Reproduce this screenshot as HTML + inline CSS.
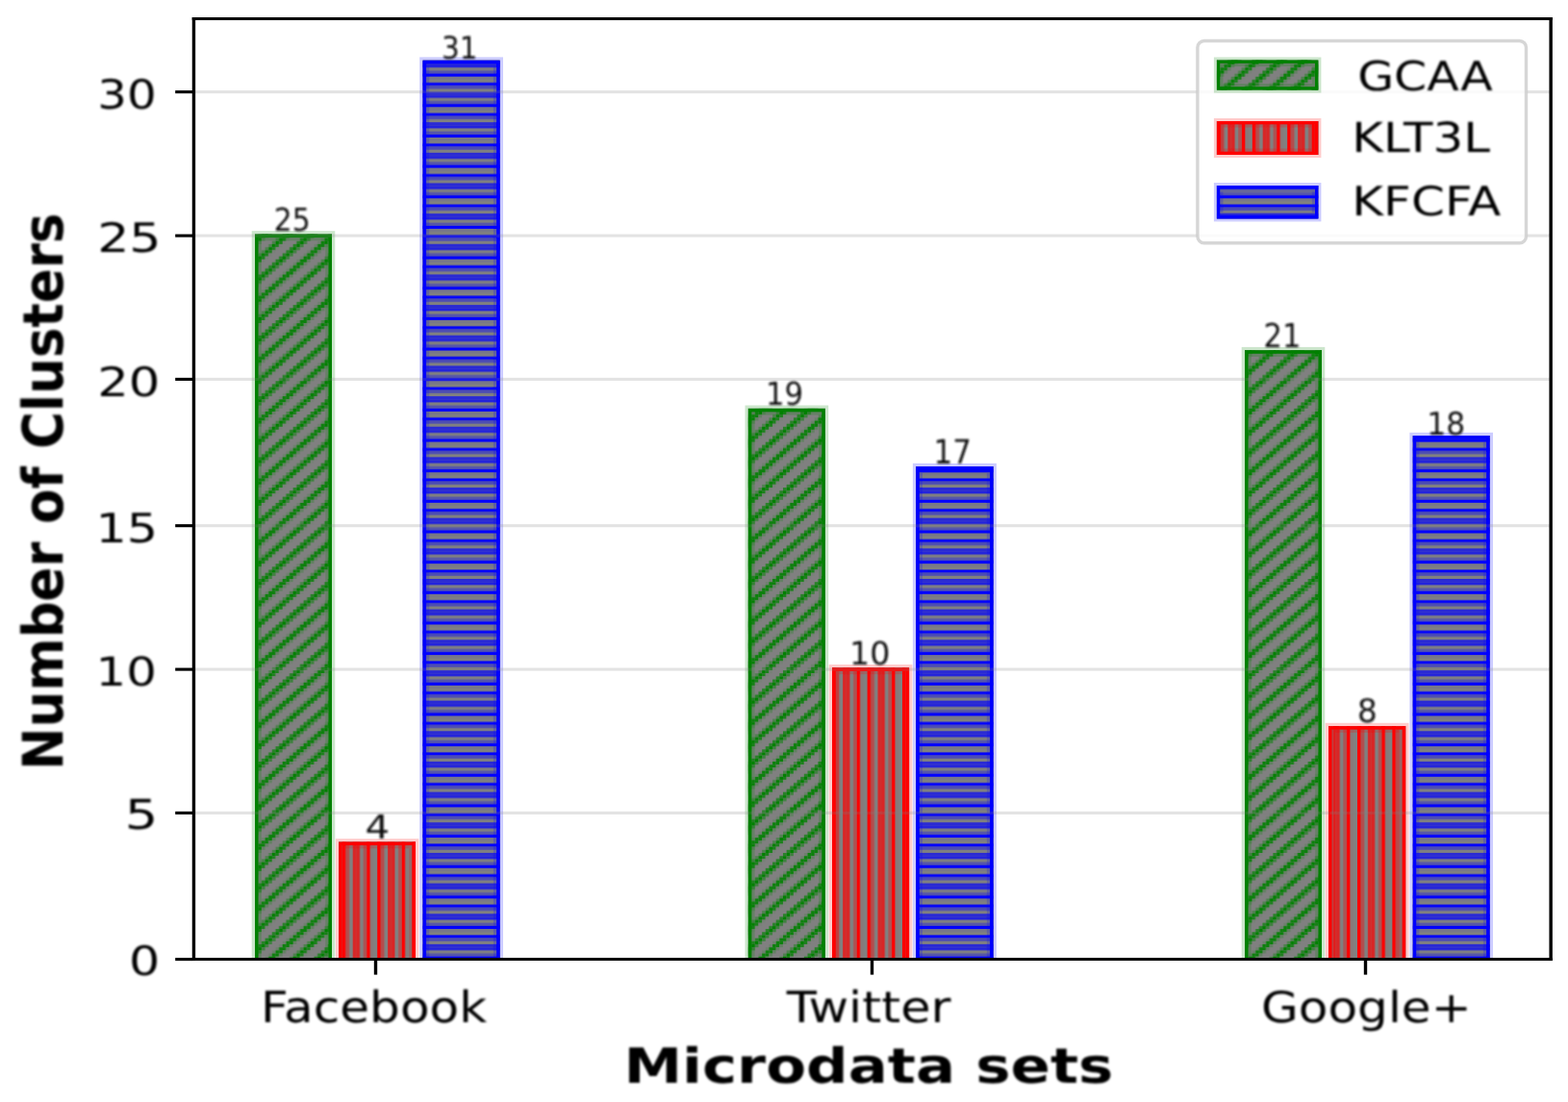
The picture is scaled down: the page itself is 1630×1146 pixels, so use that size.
<!DOCTYPE html>
<html lang="en">
<head>
<meta charset="utf-8">
<title>Number of Clusters by Microdata sets</title>
<style>
html,body{margin:0;padding:0;background:#ffffff;}
body{width:1630px;height:1146px;overflow:hidden;font-family:"DejaVu Sans","Liberation Sans",sans-serif;}
svg text{text-rendering:geometricPrecision;}
</style>
</head>
<body>
<svg width="1630" height="1146" viewBox="0 0 1630 1146" style="display:block">
<defs>
<pattern id="hg" patternUnits="userSpaceOnUse" x="0" y="0" width="72.7679" height="63.3149" patternTransform="translate(2.620,0.570)">
<rect x="10.915" y="0.000" width="3.668" height="3.196" fill="#298029"/>
<rect x="14.554" y="0.000" width="3.668" height="3.196" fill="#008000"/>
<rect x="18.192" y="0.000" width="3.668" height="3.196" fill="#408040"/>
<rect x="32.746" y="0.000" width="3.668" height="3.196" fill="#6e806e"/>
<rect x="36.384" y="0.000" width="3.668" height="3.196" fill="#0e800e"/>
<rect x="40.022" y="0.000" width="3.668" height="3.196" fill="#078007"/>
<rect x="43.661" y="0.000" width="3.668" height="3.196" fill="#648064"/>
<rect x="58.214" y="0.000" width="3.668" height="3.196" fill="#508050"/>
<rect x="61.853" y="0.000" width="3.668" height="3.196" fill="#018001"/>
<rect x="65.491" y="0.000" width="3.668" height="3.196" fill="#1c801c"/>
<rect x="69.129" y="0.000" width="3.668" height="3.196" fill="#798079"/>
<rect x="7.277" y="3.166" width="3.668" height="3.196" fill="#298029"/>
<rect x="10.915" y="3.166" width="3.668" height="3.196" fill="#008000"/>
<rect x="14.554" y="3.166" width="3.668" height="3.196" fill="#408040"/>
<rect x="29.107" y="3.166" width="3.668" height="3.196" fill="#6e806e"/>
<rect x="32.746" y="3.166" width="3.668" height="3.196" fill="#0e800e"/>
<rect x="36.384" y="3.166" width="3.668" height="3.196" fill="#078007"/>
<rect x="40.022" y="3.166" width="3.668" height="3.196" fill="#648064"/>
<rect x="54.576" y="3.166" width="3.668" height="3.196" fill="#508050"/>
<rect x="58.214" y="3.166" width="3.668" height="3.196" fill="#018001"/>
<rect x="61.853" y="3.166" width="3.668" height="3.196" fill="#1c801c"/>
<rect x="65.491" y="3.166" width="3.668" height="3.196" fill="#798079"/>
<rect x="3.638" y="6.331" width="3.668" height="3.196" fill="#298029"/>
<rect x="7.277" y="6.331" width="3.668" height="3.196" fill="#008000"/>
<rect x="10.915" y="6.331" width="3.668" height="3.196" fill="#408040"/>
<rect x="25.469" y="6.331" width="3.668" height="3.196" fill="#6e806e"/>
<rect x="29.107" y="6.331" width="3.668" height="3.196" fill="#0e800e"/>
<rect x="32.746" y="6.331" width="3.668" height="3.196" fill="#078007"/>
<rect x="36.384" y="6.331" width="3.668" height="3.196" fill="#648064"/>
<rect x="50.938" y="6.331" width="3.668" height="3.196" fill="#508050"/>
<rect x="54.576" y="6.331" width="3.668" height="3.196" fill="#018001"/>
<rect x="58.214" y="6.331" width="3.668" height="3.196" fill="#1c801c"/>
<rect x="61.853" y="6.331" width="3.668" height="3.196" fill="#798079"/>
<rect x="0.000" y="9.497" width="3.668" height="3.196" fill="#298029"/>
<rect x="3.638" y="9.497" width="3.668" height="3.196" fill="#008000"/>
<rect x="7.277" y="9.497" width="3.668" height="3.196" fill="#408040"/>
<rect x="21.830" y="9.497" width="3.668" height="3.196" fill="#6e806e"/>
<rect x="25.469" y="9.497" width="3.668" height="3.196" fill="#0e800e"/>
<rect x="29.107" y="9.497" width="3.668" height="3.196" fill="#078007"/>
<rect x="32.746" y="9.497" width="3.668" height="3.196" fill="#648064"/>
<rect x="47.299" y="9.497" width="3.668" height="3.196" fill="#508050"/>
<rect x="50.938" y="9.497" width="3.668" height="3.196" fill="#018001"/>
<rect x="54.576" y="9.497" width="3.668" height="3.196" fill="#1c801c"/>
<rect x="58.214" y="9.497" width="3.668" height="3.196" fill="#798079"/>
<rect x="0.000" y="12.663" width="3.668" height="3.196" fill="#008000"/>
<rect x="3.638" y="12.663" width="3.668" height="3.196" fill="#408040"/>
<rect x="18.192" y="12.663" width="3.668" height="3.196" fill="#6e806e"/>
<rect x="21.830" y="12.663" width="3.668" height="3.196" fill="#0e800e"/>
<rect x="25.469" y="12.663" width="3.668" height="3.196" fill="#078007"/>
<rect x="29.107" y="12.663" width="3.668" height="3.196" fill="#648064"/>
<rect x="43.661" y="12.663" width="3.668" height="3.196" fill="#508050"/>
<rect x="47.299" y="12.663" width="3.668" height="3.196" fill="#018001"/>
<rect x="50.938" y="12.663" width="3.668" height="3.196" fill="#1c801c"/>
<rect x="54.576" y="12.663" width="3.668" height="3.196" fill="#798079"/>
<rect x="69.129" y="12.663" width="3.668" height="3.196" fill="#298029"/>
<rect x="0.000" y="15.829" width="3.668" height="3.196" fill="#408040"/>
<rect x="14.554" y="15.829" width="3.668" height="3.196" fill="#6e806e"/>
<rect x="18.192" y="15.829" width="3.668" height="3.196" fill="#0e800e"/>
<rect x="21.830" y="15.829" width="3.668" height="3.196" fill="#078007"/>
<rect x="25.469" y="15.829" width="3.668" height="3.196" fill="#648064"/>
<rect x="40.022" y="15.829" width="3.668" height="3.196" fill="#508050"/>
<rect x="43.661" y="15.829" width="3.668" height="3.196" fill="#018001"/>
<rect x="47.299" y="15.829" width="3.668" height="3.196" fill="#1c801c"/>
<rect x="50.938" y="15.829" width="3.668" height="3.196" fill="#798079"/>
<rect x="65.491" y="15.829" width="3.668" height="3.196" fill="#298029"/>
<rect x="69.129" y="15.829" width="3.668" height="3.196" fill="#008000"/>
<rect x="10.915" y="18.994" width="3.668" height="3.196" fill="#6e806e"/>
<rect x="14.554" y="18.994" width="3.668" height="3.196" fill="#0e800e"/>
<rect x="18.192" y="18.994" width="3.668" height="3.196" fill="#078007"/>
<rect x="21.830" y="18.994" width="3.668" height="3.196" fill="#648064"/>
<rect x="36.384" y="18.994" width="3.668" height="3.196" fill="#508050"/>
<rect x="40.022" y="18.994" width="3.668" height="3.196" fill="#018001"/>
<rect x="43.661" y="18.994" width="3.668" height="3.196" fill="#1c801c"/>
<rect x="47.299" y="18.994" width="3.668" height="3.196" fill="#798079"/>
<rect x="61.853" y="18.994" width="3.668" height="3.196" fill="#298029"/>
<rect x="65.491" y="18.994" width="3.668" height="3.196" fill="#008000"/>
<rect x="69.129" y="18.994" width="3.668" height="3.196" fill="#408040"/>
<rect x="7.277" y="22.160" width="3.668" height="3.196" fill="#6e806e"/>
<rect x="10.915" y="22.160" width="3.668" height="3.196" fill="#0e800e"/>
<rect x="14.554" y="22.160" width="3.668" height="3.196" fill="#078007"/>
<rect x="18.192" y="22.160" width="3.668" height="3.196" fill="#648064"/>
<rect x="32.746" y="22.160" width="3.668" height="3.196" fill="#508050"/>
<rect x="36.384" y="22.160" width="3.668" height="3.196" fill="#018001"/>
<rect x="40.022" y="22.160" width="3.668" height="3.196" fill="#1c801c"/>
<rect x="43.661" y="22.160" width="3.668" height="3.196" fill="#798079"/>
<rect x="58.214" y="22.160" width="3.668" height="3.196" fill="#298029"/>
<rect x="61.853" y="22.160" width="3.668" height="3.196" fill="#008000"/>
<rect x="65.491" y="22.160" width="3.668" height="3.196" fill="#408040"/>
<rect x="3.638" y="25.326" width="3.668" height="3.196" fill="#6e806e"/>
<rect x="7.277" y="25.326" width="3.668" height="3.196" fill="#0e800e"/>
<rect x="10.915" y="25.326" width="3.668" height="3.196" fill="#078007"/>
<rect x="14.554" y="25.326" width="3.668" height="3.196" fill="#648064"/>
<rect x="29.107" y="25.326" width="3.668" height="3.196" fill="#508050"/>
<rect x="32.746" y="25.326" width="3.668" height="3.196" fill="#018001"/>
<rect x="36.384" y="25.326" width="3.668" height="3.196" fill="#1c801c"/>
<rect x="40.022" y="25.326" width="3.668" height="3.196" fill="#798079"/>
<rect x="54.576" y="25.326" width="3.668" height="3.196" fill="#298029"/>
<rect x="58.214" y="25.326" width="3.668" height="3.196" fill="#008000"/>
<rect x="61.853" y="25.326" width="3.668" height="3.196" fill="#408040"/>
<rect x="0.000" y="28.492" width="3.668" height="3.196" fill="#6e806e"/>
<rect x="3.638" y="28.492" width="3.668" height="3.196" fill="#0e800e"/>
<rect x="7.277" y="28.492" width="3.668" height="3.196" fill="#078007"/>
<rect x="10.915" y="28.492" width="3.668" height="3.196" fill="#648064"/>
<rect x="25.469" y="28.492" width="3.668" height="3.196" fill="#508050"/>
<rect x="29.107" y="28.492" width="3.668" height="3.196" fill="#018001"/>
<rect x="32.746" y="28.492" width="3.668" height="3.196" fill="#1c801c"/>
<rect x="36.384" y="28.492" width="3.668" height="3.196" fill="#798079"/>
<rect x="50.938" y="28.492" width="3.668" height="3.196" fill="#298029"/>
<rect x="54.576" y="28.492" width="3.668" height="3.196" fill="#008000"/>
<rect x="58.214" y="28.492" width="3.668" height="3.196" fill="#408040"/>
<rect x="0.000" y="31.657" width="3.668" height="3.196" fill="#0e800e"/>
<rect x="3.638" y="31.657" width="3.668" height="3.196" fill="#078007"/>
<rect x="7.277" y="31.657" width="3.668" height="3.196" fill="#648064"/>
<rect x="21.830" y="31.657" width="3.668" height="3.196" fill="#508050"/>
<rect x="25.469" y="31.657" width="3.668" height="3.196" fill="#018001"/>
<rect x="29.107" y="31.657" width="3.668" height="3.196" fill="#1c801c"/>
<rect x="32.746" y="31.657" width="3.668" height="3.196" fill="#798079"/>
<rect x="47.299" y="31.657" width="3.668" height="3.196" fill="#298029"/>
<rect x="50.938" y="31.657" width="3.668" height="3.196" fill="#008000"/>
<rect x="54.576" y="31.657" width="3.668" height="3.196" fill="#408040"/>
<rect x="69.129" y="31.657" width="3.668" height="3.196" fill="#6e806e"/>
<rect x="0.000" y="34.823" width="3.668" height="3.196" fill="#078007"/>
<rect x="3.638" y="34.823" width="3.668" height="3.196" fill="#648064"/>
<rect x="18.192" y="34.823" width="3.668" height="3.196" fill="#508050"/>
<rect x="21.830" y="34.823" width="3.668" height="3.196" fill="#018001"/>
<rect x="25.469" y="34.823" width="3.668" height="3.196" fill="#1c801c"/>
<rect x="29.107" y="34.823" width="3.668" height="3.196" fill="#798079"/>
<rect x="43.661" y="34.823" width="3.668" height="3.196" fill="#298029"/>
<rect x="47.299" y="34.823" width="3.668" height="3.196" fill="#008000"/>
<rect x="50.938" y="34.823" width="3.668" height="3.196" fill="#408040"/>
<rect x="65.491" y="34.823" width="3.668" height="3.196" fill="#6e806e"/>
<rect x="69.129" y="34.823" width="3.668" height="3.196" fill="#0e800e"/>
<rect x="0.000" y="37.989" width="3.668" height="3.196" fill="#648064"/>
<rect x="14.554" y="37.989" width="3.668" height="3.196" fill="#508050"/>
<rect x="18.192" y="37.989" width="3.668" height="3.196" fill="#018001"/>
<rect x="21.830" y="37.989" width="3.668" height="3.196" fill="#1c801c"/>
<rect x="25.469" y="37.989" width="3.668" height="3.196" fill="#798079"/>
<rect x="40.022" y="37.989" width="3.668" height="3.196" fill="#298029"/>
<rect x="43.661" y="37.989" width="3.668" height="3.196" fill="#008000"/>
<rect x="47.299" y="37.989" width="3.668" height="3.196" fill="#408040"/>
<rect x="61.853" y="37.989" width="3.668" height="3.196" fill="#6e806e"/>
<rect x="65.491" y="37.989" width="3.668" height="3.196" fill="#0e800e"/>
<rect x="69.129" y="37.989" width="3.668" height="3.196" fill="#078007"/>
<rect x="10.915" y="41.155" width="3.668" height="3.196" fill="#508050"/>
<rect x="14.554" y="41.155" width="3.668" height="3.196" fill="#018001"/>
<rect x="18.192" y="41.155" width="3.668" height="3.196" fill="#1c801c"/>
<rect x="21.830" y="41.155" width="3.668" height="3.196" fill="#798079"/>
<rect x="36.384" y="41.155" width="3.668" height="3.196" fill="#298029"/>
<rect x="40.022" y="41.155" width="3.668" height="3.196" fill="#008000"/>
<rect x="43.661" y="41.155" width="3.668" height="3.196" fill="#408040"/>
<rect x="58.214" y="41.155" width="3.668" height="3.196" fill="#6e806e"/>
<rect x="61.853" y="41.155" width="3.668" height="3.196" fill="#0e800e"/>
<rect x="65.491" y="41.155" width="3.668" height="3.196" fill="#078007"/>
<rect x="69.129" y="41.155" width="3.668" height="3.196" fill="#648064"/>
<rect x="7.277" y="44.320" width="3.668" height="3.196" fill="#508050"/>
<rect x="10.915" y="44.320" width="3.668" height="3.196" fill="#018001"/>
<rect x="14.554" y="44.320" width="3.668" height="3.196" fill="#1c801c"/>
<rect x="18.192" y="44.320" width="3.668" height="3.196" fill="#798079"/>
<rect x="32.746" y="44.320" width="3.668" height="3.196" fill="#298029"/>
<rect x="36.384" y="44.320" width="3.668" height="3.196" fill="#008000"/>
<rect x="40.022" y="44.320" width="3.668" height="3.196" fill="#408040"/>
<rect x="54.576" y="44.320" width="3.668" height="3.196" fill="#6e806e"/>
<rect x="58.214" y="44.320" width="3.668" height="3.196" fill="#0e800e"/>
<rect x="61.853" y="44.320" width="3.668" height="3.196" fill="#078007"/>
<rect x="65.491" y="44.320" width="3.668" height="3.196" fill="#648064"/>
<rect x="3.638" y="47.486" width="3.668" height="3.196" fill="#508050"/>
<rect x="7.277" y="47.486" width="3.668" height="3.196" fill="#018001"/>
<rect x="10.915" y="47.486" width="3.668" height="3.196" fill="#1c801c"/>
<rect x="14.554" y="47.486" width="3.668" height="3.196" fill="#798079"/>
<rect x="29.107" y="47.486" width="3.668" height="3.196" fill="#298029"/>
<rect x="32.746" y="47.486" width="3.668" height="3.196" fill="#008000"/>
<rect x="36.384" y="47.486" width="3.668" height="3.196" fill="#408040"/>
<rect x="50.938" y="47.486" width="3.668" height="3.196" fill="#6e806e"/>
<rect x="54.576" y="47.486" width="3.668" height="3.196" fill="#0e800e"/>
<rect x="58.214" y="47.486" width="3.668" height="3.196" fill="#078007"/>
<rect x="61.853" y="47.486" width="3.668" height="3.196" fill="#648064"/>
<rect x="0.000" y="50.652" width="3.668" height="3.196" fill="#508050"/>
<rect x="3.638" y="50.652" width="3.668" height="3.196" fill="#018001"/>
<rect x="7.277" y="50.652" width="3.668" height="3.196" fill="#1c801c"/>
<rect x="10.915" y="50.652" width="3.668" height="3.196" fill="#798079"/>
<rect x="25.469" y="50.652" width="3.668" height="3.196" fill="#298029"/>
<rect x="29.107" y="50.652" width="3.668" height="3.196" fill="#008000"/>
<rect x="32.746" y="50.652" width="3.668" height="3.196" fill="#408040"/>
<rect x="47.299" y="50.652" width="3.668" height="3.196" fill="#6e806e"/>
<rect x="50.938" y="50.652" width="3.668" height="3.196" fill="#0e800e"/>
<rect x="54.576" y="50.652" width="3.668" height="3.196" fill="#078007"/>
<rect x="58.214" y="50.652" width="3.668" height="3.196" fill="#648064"/>
<rect x="0.000" y="53.818" width="3.668" height="3.196" fill="#018001"/>
<rect x="3.638" y="53.818" width="3.668" height="3.196" fill="#1c801c"/>
<rect x="7.277" y="53.818" width="3.668" height="3.196" fill="#798079"/>
<rect x="21.830" y="53.818" width="3.668" height="3.196" fill="#298029"/>
<rect x="25.469" y="53.818" width="3.668" height="3.196" fill="#008000"/>
<rect x="29.107" y="53.818" width="3.668" height="3.196" fill="#408040"/>
<rect x="43.661" y="53.818" width="3.668" height="3.196" fill="#6e806e"/>
<rect x="47.299" y="53.818" width="3.668" height="3.196" fill="#0e800e"/>
<rect x="50.938" y="53.818" width="3.668" height="3.196" fill="#078007"/>
<rect x="54.576" y="53.818" width="3.668" height="3.196" fill="#648064"/>
<rect x="69.129" y="53.818" width="3.668" height="3.196" fill="#508050"/>
<rect x="0.000" y="56.983" width="3.668" height="3.196" fill="#1c801c"/>
<rect x="3.638" y="56.983" width="3.668" height="3.196" fill="#798079"/>
<rect x="18.192" y="56.983" width="3.668" height="3.196" fill="#298029"/>
<rect x="21.830" y="56.983" width="3.668" height="3.196" fill="#008000"/>
<rect x="25.469" y="56.983" width="3.668" height="3.196" fill="#408040"/>
<rect x="40.022" y="56.983" width="3.668" height="3.196" fill="#6e806e"/>
<rect x="43.661" y="56.983" width="3.668" height="3.196" fill="#0e800e"/>
<rect x="47.299" y="56.983" width="3.668" height="3.196" fill="#078007"/>
<rect x="50.938" y="56.983" width="3.668" height="3.196" fill="#648064"/>
<rect x="65.491" y="56.983" width="3.668" height="3.196" fill="#508050"/>
<rect x="69.129" y="56.983" width="3.668" height="3.196" fill="#018001"/>
<rect x="0.000" y="60.149" width="3.668" height="3.196" fill="#798079"/>
<rect x="14.554" y="60.149" width="3.668" height="3.196" fill="#298029"/>
<rect x="18.192" y="60.149" width="3.668" height="3.196" fill="#008000"/>
<rect x="21.830" y="60.149" width="3.668" height="3.196" fill="#408040"/>
<rect x="36.384" y="60.149" width="3.668" height="3.196" fill="#6e806e"/>
<rect x="40.022" y="60.149" width="3.668" height="3.196" fill="#0e800e"/>
<rect x="43.661" y="60.149" width="3.668" height="3.196" fill="#078007"/>
<rect x="47.299" y="60.149" width="3.668" height="3.196" fill="#648064"/>
<rect x="61.853" y="60.149" width="3.668" height="3.196" fill="#508050"/>
<rect x="65.491" y="60.149" width="3.668" height="3.196" fill="#018001"/>
<rect x="69.129" y="60.149" width="3.668" height="3.196" fill="#1c801c"/>
</pattern>
<pattern id="hr" patternUnits="userSpaceOnUse" x="0" y="0" width="36.3839" height="40" patternTransform="translate(28.4,0)">
<rect x="0" y="0" width="36.3839" height="40" fill="#808080"/>
<rect x="0.0000" y="0" width="3.6584" height="40" fill="#ff0000"/>
<rect x="3.6384" y="0" width="3.6584" height="40" fill="#b34d4d"/>
<rect x="10.9152" y="0" width="3.6584" height="40" fill="#d92626"/>
<rect x="14.5536" y="0" width="3.6584" height="40" fill="#d92626"/>
<rect x="21.8304" y="0" width="3.6584" height="40" fill="#ac5353"/>
<rect x="25.4688" y="0" width="3.6584" height="40" fill="#ff0000"/>
<rect x="29.1071" y="0" width="3.6584" height="40" fill="#867a7a"/>
</pattern>
<pattern id="hb" patternUnits="userSpaceOnUse" x="0" y="0" width="40" height="31.6575" patternTransform="translate(0,16.33)">
<rect x="0" y="0" width="40" height="31.6575" fill="#808080"/>
<rect x="0" y="0.0000" width="40" height="3.1857" fill="#787888"/>
<rect x="0" y="6.3315" width="40" height="3.1857" fill="#0000ff"/>
<rect x="0" y="9.4972" width="40" height="3.1857" fill="#4d4db3"/>
<rect x="0" y="15.8287" width="40" height="3.1857" fill="#2c2cd4"/>
<rect x="0" y="18.9945" width="40" height="3.1857" fill="#2323dd"/>
<rect x="0" y="25.3260" width="40" height="3.1857" fill="#5656aa"/>
<rect x="0" y="28.4917" width="40" height="3.1857" fill="#0000ff"/>
</pattern>
<filter id="soft" x="-2%" y="-2%" width="104%" height="104%"><feGaussianBlur stdDeviation="0.6"/></filter>
<filter id="tsoft" x="-2%" y="-2%" width="104%" height="104%"><feGaussianBlur stdDeviation="0.9"/></filter>
<clipPath id="axclip"><rect x="201.45" y="19.5" width="1410.7" height="976.65"/></clipPath>
</defs>
<rect x="0" y="0" width="1630" height="1146" fill="#ffffff"/>
<g filter="url(#soft)">
<g clip-path="url(#axclip)">
<rect x="261.70" y="240.20" width="86.60" height="757.35" fill="#008000" fill-opacity="0.2"/>
<rect x="265.00" y="243.50" width="80.00" height="754.05" fill="#808080"/>
<rect x="265.00" y="243.50" width="80.00" height="754.05" fill="url(#hg)"/>
<rect x="270.20" y="248.70" width="69.60" height="750.85" fill="none" stroke="#008000" stroke-opacity="0.2" stroke-width="3.2"/>
<rect x="266.80" y="245.30" width="76.40" height="754.25" fill="none" stroke="#008000" stroke-width="3.6"/>
<rect x="348.90" y="872.20" width="86.40" height="125.35" fill="#ff0000" fill-opacity="0.2"/>
<rect x="352.20" y="875.50" width="79.80" height="122.05" fill="#808080"/>
<rect x="352.20" y="875.50" width="79.80" height="122.05" fill="url(#hr)"/>
<rect x="357.40" y="880.70" width="69.40" height="118.85" fill="none" stroke="#ff0000" stroke-opacity="0.2" stroke-width="3.2"/>
<rect x="354.00" y="877.30" width="76.20" height="122.25" fill="none" stroke="#ff0000" stroke-width="3.6"/>
<rect x="436.20" y="59.40" width="86.80" height="938.15" fill="#0000ff" fill-opacity="0.2"/>
<rect x="439.50" y="62.70" width="80.20" height="934.85" fill="#808080"/>
<rect x="439.50" y="62.70" width="80.20" height="934.85" fill="url(#hb)"/>
<rect x="444.70" y="67.90" width="69.80" height="931.65" fill="none" stroke="#0000ff" stroke-opacity="0.2" stroke-width="3.2"/>
<rect x="441.30" y="64.50" width="76.60" height="935.05" fill="none" stroke="#0000ff" stroke-width="3.6"/>
<rect x="774.50" y="421.50" width="86.70" height="576.05" fill="#008000" fill-opacity="0.2"/>
<rect x="777.80" y="424.80" width="80.10" height="572.75" fill="#808080"/>
<rect x="777.80" y="424.80" width="80.10" height="572.75" fill="url(#hg)"/>
<rect x="783.00" y="430.00" width="69.70" height="569.55" fill="none" stroke="#008000" stroke-opacity="0.2" stroke-width="3.2"/>
<rect x="779.60" y="426.60" width="76.50" height="572.95" fill="none" stroke="#008000" stroke-width="3.6"/>
<rect x="861.70" y="691.10" width="86.70" height="306.45" fill="#ff0000" fill-opacity="0.2"/>
<rect x="865.00" y="694.40" width="80.10" height="303.15" fill="#808080"/>
<rect x="865.00" y="694.40" width="80.10" height="303.15" fill="url(#hr)"/>
<rect x="870.20" y="699.60" width="69.70" height="299.95" fill="none" stroke="#ff0000" stroke-opacity="0.2" stroke-width="3.2"/>
<rect x="866.80" y="696.20" width="76.50" height="303.35" fill="none" stroke="#ff0000" stroke-width="3.6"/>
<rect x="948.90" y="481.80" width="87.00" height="515.75" fill="#0000ff" fill-opacity="0.2"/>
<rect x="952.20" y="485.10" width="80.40" height="512.45" fill="#808080"/>
<rect x="952.20" y="485.10" width="80.40" height="512.45" fill="url(#hb)"/>
<rect x="957.40" y="490.30" width="70.00" height="509.25" fill="none" stroke="#0000ff" stroke-opacity="0.2" stroke-width="3.2"/>
<rect x="954.00" y="486.90" width="76.80" height="512.65" fill="none" stroke="#0000ff" stroke-width="3.6"/>
<rect x="1290.70" y="360.90" width="86.60" height="636.65" fill="#008000" fill-opacity="0.2"/>
<rect x="1294.00" y="364.20" width="80.00" height="633.35" fill="#808080"/>
<rect x="1294.00" y="364.20" width="80.00" height="633.35" fill="url(#hg)"/>
<rect x="1299.20" y="369.40" width="69.60" height="630.15" fill="none" stroke="#008000" stroke-opacity="0.2" stroke-width="3.2"/>
<rect x="1295.80" y="366.00" width="76.40" height="633.55" fill="none" stroke="#008000" stroke-width="3.6"/>
<rect x="1377.80" y="751.80" width="86.70" height="245.75" fill="#ff0000" fill-opacity="0.2"/>
<rect x="1381.10" y="755.10" width="80.10" height="242.45" fill="#808080"/>
<rect x="1381.10" y="755.10" width="80.10" height="242.45" fill="url(#hr)"/>
<rect x="1386.30" y="760.30" width="69.70" height="239.25" fill="none" stroke="#ff0000" stroke-opacity="0.2" stroke-width="3.2"/>
<rect x="1382.90" y="756.90" width="76.50" height="242.65" fill="none" stroke="#ff0000" stroke-width="3.6"/>
<rect x="1465.40" y="449.80" width="86.60" height="547.75" fill="#0000ff" fill-opacity="0.2"/>
<rect x="1468.70" y="453.10" width="80.00" height="544.45" fill="#808080"/>
<rect x="1468.70" y="453.10" width="80.00" height="544.45" fill="url(#hb)"/>
<rect x="1473.90" y="458.30" width="69.60" height="541.25" fill="none" stroke="#0000ff" stroke-opacity="0.2" stroke-width="3.2"/>
<rect x="1470.50" y="454.90" width="76.40" height="544.65" fill="none" stroke="#0000ff" stroke-width="3.6"/>
</g>
<rect x="201.45" y="94.05" width="1410.70" height="3.1" fill="#808080" fill-opacity="0.22"/>
<rect x="201.45" y="243.55" width="1410.70" height="3.1" fill="#808080" fill-opacity="0.22"/>
<rect x="201.45" y="392.85" width="1410.70" height="3.1" fill="#808080" fill-opacity="0.22"/>
<rect x="201.45" y="545.15" width="1410.70" height="3.1" fill="#808080" fill-opacity="0.22"/>
<rect x="201.45" y="694.55" width="1410.70" height="3.1" fill="#808080" fill-opacity="0.22"/>
<rect x="201.45" y="843.85" width="1410.70" height="3.1" fill="#808080" fill-opacity="0.22"/>
<rect x="199.75" y="18.00" width="3.4" height="981.05" fill="#000"/>
<rect x="1610.45" y="18.00" width="3.4" height="981.05" fill="#000"/>
<rect x="199.75" y="18.00" width="1414.10" height="3.0" fill="#000"/>
<rect x="199.75" y="996.05" width="1414.10" height="3.0" fill="#000"/>
<rect x="182.2" y="94.05" width="18" height="3.1" fill="#000"/>
<rect x="182.2" y="243.55" width="18" height="3.1" fill="#000"/>
<rect x="182.2" y="392.85" width="18" height="3.1" fill="#000"/>
<rect x="182.2" y="545.15" width="18" height="3.1" fill="#000"/>
<rect x="182.2" y="694.55" width="18" height="3.1" fill="#000"/>
<rect x="182.2" y="843.85" width="18" height="3.1" fill="#000"/>
<rect x="182.2" y="996.05" width="18" height="3.1" fill="#000"/>
<rect x="388.80" y="998" width="3.4" height="15.6" fill="#000"/>
<rect x="904.80" y="998" width="3.4" height="15.6" fill="#000"/>
<rect x="1417.80" y="998" width="3.4" height="15.6" fill="#000"/>
</g>
<g filter="url(#tsoft)">
<text transform="translate(101.33,112.71) scale(1.1430,1)" font-family="'DejaVu Sans','Liberation Sans',sans-serif" font-size="42.20px" font-weight="normal" fill="#000">30</text>
<text transform="translate(101.13,262.21) scale(1.2383,1)" font-family="'DejaVu Sans','Liberation Sans',sans-serif" font-size="42.20px" font-weight="normal" fill="#000">25</text>
<text transform="translate(101.21,411.51) scale(1.2143,1)" font-family="'DejaVu Sans','Liberation Sans',sans-serif" font-size="42.20px" font-weight="normal" fill="#000">20</text>
<text transform="translate(99.42,563.51) scale(1.2024,1)" font-family="'DejaVu Sans','Liberation Sans',sans-serif" font-size="42.20px" font-weight="normal" fill="#000">15</text>
<text transform="translate(99.53,713.02) scale(1.1972,1)" font-family="'DejaVu Sans','Liberation Sans',sans-serif" font-size="41.53px" font-weight="normal" fill="#000">10</text>
<text transform="translate(129.77,862.20) scale(1.2694,1)" font-family="'DejaVu Sans','Liberation Sans',sans-serif" font-size="42.74px" font-weight="normal" fill="#000">5</text>
<text transform="translate(134.05,1014.41) scale(1.2075,1)" font-family="'DejaVu Sans','Liberation Sans',sans-serif" font-size="42.06px" font-weight="normal" fill="#000">0</text>
<text transform="translate(270.89,1062.80) scale(1.1126,1)" font-family="'DejaVu Sans','Liberation Sans',sans-serif" font-size="45.00px" font-weight="normal" fill="#000">Facebook</text>
<text transform="translate(817.70,1062.80) scale(1.1323,1)" font-family="'DejaVu Sans','Liberation Sans',sans-serif" font-size="45.00px" font-weight="normal" fill="#000">Twitter</text>
<text transform="translate(1310.99,1062.80) scale(1.1257,1)" font-family="'DejaVu Sans','Liberation Sans',sans-serif" font-size="44.50px" font-weight="normal" fill="#000">Google+</text>
<text transform="translate(648.39,1126.00) scale(1.2072,1)" font-family="'DejaVu Sans','Liberation Sans',sans-serif" font-size="50.50px" font-weight="bold" fill="#000">Microdata sets</text>
<text transform="translate(65.20,800.88) rotate(-90) scale(0.9119,1)" font-family="'DejaVu Sans','Liberation Sans',sans-serif" font-size="58.16px" font-weight="bold" fill="#000">Number of Clusters</text>
<text transform="translate(284.80,239.54) scale(0.8990,1)" font-family="'DejaVu Sans','Liberation Sans',sans-serif" font-size="33.07px" font-weight="normal" fill="#111111">25</text>
<text transform="translate(379.56,872.00) scale(1.1801,1)" font-family="'DejaVu Sans','Liberation Sans',sans-serif" font-size="34.25px" font-weight="normal" fill="#111111">4</text>
<text transform="translate(459.06,61.35) scale(0.9084,1)" font-family="'DejaVu Sans','Liberation Sans',sans-serif" font-size="32.41px" font-weight="normal" fill="#111111">31</text>
<text transform="translate(796.02,420.54) scale(0.9305,1)" font-family="'DejaVu Sans','Liberation Sans',sans-serif" font-size="33.07px" font-weight="normal" fill="#111111">19</text>
<text transform="translate(883.05,690.64) scale(1.0003,1)" font-family="'DejaVu Sans','Liberation Sans',sans-serif" font-size="33.20px" font-weight="normal" fill="#111111">10</text>
<text transform="translate(970.61,481.70) scale(0.8868,1)" font-family="'DejaVu Sans','Liberation Sans',sans-serif" font-size="34.79px" font-weight="normal" fill="#111111">17</text>
<text transform="translate(1313.44,360.80) scale(0.8893,1)" font-family="'DejaVu Sans','Liberation Sans',sans-serif" font-size="34.37px" font-weight="normal" fill="#111111">21</text>
<text transform="translate(1411.08,751.23) scale(0.9627,1)" font-family="'DejaVu Sans','Liberation Sans',sans-serif" font-size="33.86px" font-weight="normal" fill="#111111">8</text>
<text transform="translate(1483.25,452.14) scale(0.9635,1)" font-family="'DejaVu Sans','Liberation Sans',sans-serif" font-size="32.54px" font-weight="normal" fill="#111111">18</text>
</g>
<g filter="url(#soft)">
<rect x="1244.9" y="42.5" width="341.6" height="210.3" rx="7" ry="7" fill="#ffffff" fill-opacity="0.8" stroke="#cccccc" stroke-opacity="0.8" stroke-width="3.4"/>
<rect x="1261.90" y="59.50" width="111.50" height="37.10" fill="#008000" fill-opacity="0.2"/>
<rect x="1264.90" y="62.50" width="105.50" height="31.10" fill="#808080"/>
<rect x="1264.90" y="62.50" width="105.50" height="31.10" fill="url(#hg)"/>
<rect x="1269.90" y="67.50" width="95.50" height="21.10" fill="none" stroke="#008000" stroke-opacity="0.2" stroke-width="3.2"/>
<rect x="1266.60" y="64.20" width="102.10" height="27.70" fill="none" stroke="#008000" stroke-width="3.4"/>
<rect x="1261.90" y="123.00" width="111.50" height="41.00" fill="#ff0000" fill-opacity="0.2"/>
<rect x="1264.90" y="126.00" width="105.50" height="35.00" fill="#808080"/>
<rect x="1264.90" y="126.00" width="105.50" height="35.00" fill="url(#hr)"/>
<rect x="1269.90" y="131.00" width="95.50" height="25.00" fill="none" stroke="#ff0000" stroke-opacity="0.2" stroke-width="3.2"/>
<rect x="1266.60" y="127.70" width="102.10" height="31.60" fill="none" stroke="#ff0000" stroke-width="3.4"/>
<rect x="1261.90" y="190.00" width="111.50" height="40.40" fill="#0000ff" fill-opacity="0.2"/>
<rect x="1264.90" y="193.00" width="105.50" height="34.40" fill="#808080"/>
<rect x="1264.90" y="193.00" width="105.50" height="34.40" fill="url(#hb)"/>
<rect x="1269.90" y="198.00" width="95.50" height="24.40" fill="none" stroke="#0000ff" stroke-opacity="0.2" stroke-width="3.2"/>
<rect x="1266.60" y="194.70" width="102.10" height="31.00" fill="none" stroke="#0000ff" stroke-width="3.4"/>
</g>
<g filter="url(#tsoft)">
<text transform="translate(1411.16,93.60) scale(1.1571,1)" font-family="'DejaVu Sans','Liberation Sans',sans-serif" font-size="42.32px" font-weight="normal" fill="#000">GCAA</text>
<text transform="translate(1405.31,157.90) scale(1.1613,1)" font-family="'DejaVu Sans','Liberation Sans',sans-serif" font-size="42.99px" font-weight="normal" fill="#000">KLT3L</text>
<text transform="translate(1405.29,224.20) scale(1.1907,1)" font-family="'DejaVu Sans','Liberation Sans',sans-serif" font-size="42.05px" font-weight="normal" fill="#000">KFCFA</text>
</g>
</svg>
</body>
</html>
